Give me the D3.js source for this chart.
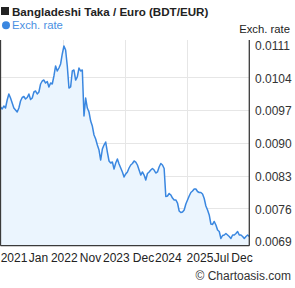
<!DOCTYPE html>
<html>
<head>
<meta charset="utf-8">
<script src="https://cdn.jsdelivr.net/npm/d3@7"></script>
<style>
  body { margin: 0; background: #fff; }
  svg { display: block; font-family: "Liberation Sans", Arial, sans-serif; }
</style>
</head>
<body>
<div id="chart"></div>
<script>
// BDT/EUR exchange rate (evenly spaced, ~12 days apart)
const startDate = "2020-12-15";
const endDate = "2025-12-15";
const rates = [
  0.009767, 0.009724, 0.009788, 0.009745, 0.009917, 0.010045, 0.009959, 0.009852, 0.009745, 0.009703,
  0.009660, 0.009745, 0.009895, 0.009970, 0.009991, 0.009938, 0.009970, 0.010045, 0.009927, 0.009959,
  0.010088, 0.010109, 0.010045, 0.010088, 0.010259, 0.010323, 0.010344, 0.010280, 0.010312, 0.010195,
  0.010280, 0.010259, 0.010430, 0.010644, 0.010537, 0.010601, 0.010687, 0.010901, 0.011072, 0.010986,
  0.010644, 0.010173, 0.010195, 0.010537, 0.010558, 0.010344, 0.010409, 0.010601, 0.010537, 0.010558,
  0.009574, 0.009959, 0.009745, 0.009660, 0.009467, 0.009360, 0.009168, 0.009082, 0.008954, 0.008847,
  0.008633, 0.008868, 0.008954, 0.009018, 0.008804, 0.008612, 0.008569, 0.008590, 0.008441, 0.008569,
  0.008655, 0.008548, 0.008462, 0.008377, 0.008270, 0.008334, 0.008377, 0.008462, 0.008526, 0.008558,
  0.008612, 0.008590, 0.008526, 0.008419, 0.008312, 0.008377, 0.008312, 0.008205, 0.008344, 0.008377,
  0.008419, 0.008451, 0.008419, 0.008355, 0.008377, 0.008483, 0.008558, 0.008526, 0.008451, 0.007852,
  0.007863, 0.007917, 0.007885, 0.007820, 0.007778, 0.007778, 0.007713, 0.007542, 0.007510, 0.007521,
  0.007564, 0.007692, 0.007778, 0.007863, 0.007938, 0.007970, 0.008013, 0.008013, 0.007959, 0.007938,
  0.007938, 0.007906, 0.007810, 0.007649, 0.007564, 0.007457, 0.007264, 0.007254, 0.007318, 0.007243,
  0.007136, 0.007104, 0.006954, 0.007018, 0.007029, 0.007061, 0.007029, 0.006997, 0.006954, 0.007029,
  0.007029, 0.007061, 0.007104, 0.007029, 0.007029, 0.006997, 0.006954, 0.006997, 0.007029, 0.006997
];

const yTicks = [0.0069, 0.0076, 0.0083, 0.0090, 0.0097, 0.0104, 0.0111];

const xLabels = ["2021", "Jan", "2022", "Nov", "2023", "Dec", "2024", "2025", "Jul", "Dec"];
const xLabelDates = ["2020-12-16", "2021-07-11", "2021-12-20", "2022-07-20", "2023-01-06",
                     "2023-08-13", "2024-01-23", "2024-09-11", "2025-03-30", "2025-08-05"];

const title = "Bangladeshi Taka / Euro (BDT/EUR)";
const seriesName = "Exch. rate";

const width = 295, height = 288;
const plot = { left: 0.5, right: 249.3, top: 40, bottom: 245.7 };

const parse = d3.timeParse("%Y-%m-%d");
const t0 = parse(startDate), t1 = parse(endDate);
const data = rates.map((v, i) => ({
  date: new Date(+t0 + (t1 - t0) * i / (rates.length - 1)),
  value: v
}));

const svg = d3.select("#chart")
  .append("svg")
  .attr("width", width)
  .attr("height", height);

const x = d3.scaleTime()
  .domain([t0, t1])
  .range([plot.left, plot.right]);

const y = d3.scaleLinear()
  .domain([0.0068, 0.0112])
  .range([plot.bottom, plot.top]);

// vertical grid (quarters)
const vGrid = d3.range(1, 4).map(i => new Date(+t0 + (t1 - t0) * i / 4));
svg.append("g")
  .selectAll("line")
  .data(vGrid)
  .join("line")
  .attr("x1", d => Math.round(x(d)) + 0.5)
  .attr("x2", d => Math.round(x(d)) + 0.5)
  .attr("y1", plot.top)
  .attr("y2", plot.bottom)
  .attr("stroke", "#e6e6e6")
  .attr("stroke-width", 1);

// horizontal grid, inner ticks only
svg.append("g")
  .selectAll("line")
  .data(yTicks.slice(1, -1))
  .join("line")
  .attr("x1", plot.left)
  .attr("x2", plot.right)
  .attr("y1", d => Math.round(y(d)) + 0.5)
  .attr("y2", d => Math.round(y(d)) + 0.5)
  .attr("stroke", "#e6e6e6")
  .attr("stroke-width", 1);

// area
svg.append("path")
  .datum(data)
  .attr("fill", "#ebf5fe")
  .attr("d", d3.area()
    .x(d => x(d.date))
    .y0(plot.bottom)
    .y1(d => y(d.value)));

// line
svg.append("path")
  .datum(data)
  .attr("fill", "none")
  .attr("stroke", "#3a87e0")
  .attr("stroke-width", 1.5)
  .attr("stroke-linejoin", "round")
  .attr("d", d3.line()
    .x(d => x(d.date))
    .y(d => y(d.value)));

// axis frame lines
const axisColor = "#3a3a3a";
svg.append("line")
  .attr("x1", plot.left).attr("x2", plot.left)
  .attr("y1", plot.top).attr("y2", plot.bottom)
  .attr("stroke", axisColor).attr("stroke-width", 1.3);
svg.append("line")
  .attr("x1", plot.right).attr("x2", plot.right)
  .attr("y1", plot.top).attr("y2", plot.bottom)
  .attr("stroke", axisColor).attr("stroke-width", 1.3);
svg.append("line")
  .attr("x1", plot.left).attr("x2", plot.right)
  .attr("y1", plot.bottom).attr("y2", plot.bottom)
  .attr("stroke", axisColor).attr("stroke-width", 1.3);

// y tick labels (right)
svg.append("g")
  .selectAll("text")
  .data(yTicks)
  .join("text")
  .attr("x", 255)
  .attr("y", d => y(d) + 1)
  .attr("dy", "0.35em")
  .attr("font-size", 12)
  .attr("fill", "#333")
  .text(d => d.toFixed(4));

// x labels
svg.append("g")
  .selectAll("text")
  .data(xLabels)
  .join("text")
  .attr("x", (d, i) => x(parse(xLabelDates[i])))
  .attr("y", 262)
  .attr("font-size", 12)
  .attr("fill", "#222")
  .text(d => d);

// title
svg.append("rect")
  .attr("x", 1).attr("y", 7)
  .attr("width", 8).attr("height", 8)
  .attr("fill", "#222");
svg.append("text")
  .attr("x", 12).attr("y", 15.5)
  .attr("font-size", 11.6)
  .attr("font-weight", "bold")
  .attr("fill", "#222")
  .text(title);

// legend
svg.append("circle")
  .attr("cx", 6).attr("cy", 25.3).attr("r", 4)
  .attr("fill", "#3a87e0");
svg.append("text")
  .attr("x", 12).attr("y", 29.3)
  .attr("font-size", 11.3)
  .attr("fill", "#4a90e2")
  .text(seriesName);

// axis title
svg.append("text")
  .attr("x", 290).attr("y", 33)
  .attr("text-anchor", "end")
  .attr("font-size", 11.3)
  .attr("fill", "#222")
  .text(seriesName);

// footer
svg.append("text")
  .attr("x", 291).attr("y", 280)
  .attr("text-anchor", "end")
  .attr("font-size", 12)
  .attr("fill", "#333")
  .text("\u00a9 Chartoasis.com");
</script>
</body>
</html>
